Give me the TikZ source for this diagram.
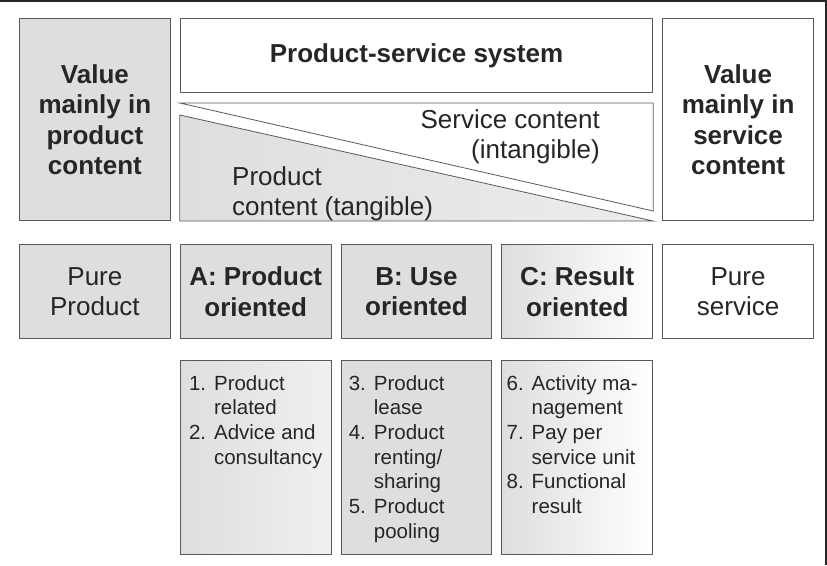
\documentclass[tikz,border=0pt]{standalone}
\usepackage{fontspec}
\setmainfont{Liberation Sans}
\usetikzlibrary{positioning,calc}
\definecolor{boxgrey}{HTML}{DEDEDE}
\newcommand{\psslarge}{\fontsize{26}{30.5}\selectfont}
\newcommand{\psssmall}{\fontsize{20.5}{24.7}\selectfont}
\tikzset{
    pssbox/.style={draw=black!65, line width=1pt, align=center, text=black!85,
        inner sep=0pt, font=\psslarge, minimum width=150.8pt},
    greybox/.style={pssbox, fill=boxgrey},
    whitebox/.style={pssbox, fill=white},
    fadebox/.style={pssbox, left color=boxgrey, right color=white},
    tallbox/.style={minimum height=202pt, font=\psslarge\bfseries},
    midbox/.style={minimum height=94pt},
    listbox/.style={minimum height=194pt},
    itemtext/.style={inner sep=0pt, text=black!85, font=\psssmall},
    plaintext/.style={inner sep=0pt, text=black!85, font=\psslarge},
    contentline/.style={draw=black!65, line width=0.8pt}
}

\begin{document}
\begin{tikzpicture}[x=1pt, y=1pt, node distance=9pt]
\useasboundingbox (0,0) rectangle (827,-565);
\draw[line width=2pt, black!85] (0,-1) -- (826,-1) -- (826,-565);

\node[greybox, tallbox, anchor=north west] (valprod) at (19,-18) {Value\\mainly in\\product\\content};
\node[whitebox, right=of valprod.north east, anchor=north west, minimum width=472.4pt,
    minimum height=74pt, font=\psslarge\bfseries] (pss) {Product-service system};
\node[whitebox, tallbox, right=of pss.north east, anchor=north west] (valserv) {Value\\mainly in\\service\\content};

\coordinate (svnw) at ($(pss.south west)+(0,-10)$);
\coordinate (svne) at ($(pss.south east)+(0,-10)$);
\coordinate (svse) at ($(pss.south east |- valprod.south)+(0,10)$);
\coordinate (pdnw) at ($(svnw)+(0,-12)$);
\coordinate (pdsw) at (pss.south west |- valprod.south);
\coordinate (pdse) at (pss.south east |- valprod.south);
\draw[contentline, fill=white] (svnw) -- (svne) -- (svse) -- cycle;
\draw[contentline, left color=boxgrey, right color=boxgrey!55!white] (pdnw) -- (pdse) -- (pdsw) -- cycle;
\node[plaintext, align=right, anchor=north east] (servtxt) at (600,-109) {Service content\\(intangible)};
\node[plaintext, align=left, anchor=north west] (prodtxt) at (232,-166) {Product\\content (tangible)};

\node[greybox, midbox, below=23pt of valprod.south west, anchor=north west] (pureprod) {Pure\\Product};
\node[greybox, midbox, right=of pureprod, font=\psslarge\bfseries] (prodor) {A: Product\\oriented};
\node[greybox, midbox, right=of prodor, font=\psslarge\bfseries] (useor) {B: Use\\oriented};
\node[fadebox, midbox, right=of useor, font=\psslarge\bfseries] (resor) {C: Result\\oriented};
\node[whitebox, midbox, right=of resor] (pureserv) {Pure\\service};

\node[pssbox, listbox, below=21pt of prodor, left color=boxgrey, right color=boxgrey!45!white] (prodlist) {};
\node[greybox, listbox, below=21pt of useor] (uselist) {};
\node[fadebox, listbox, below=21pt of resor] (reslist) {};

\node[itemtext, anchor=base west] (proditems) at ($(prodlist.north west)+(9,-30)$)
    {\begin{tabular}[t]{@{}l@{\hspace{8pt}}l@{}}1.&Product\\&related\\2.&Advice and\\&consultancy\end{tabular}};
\node[itemtext, anchor=base west] (useitems) at ($(uselist.north west)+(8,-30)$)
    {\begin{tabular}[t]{@{}l@{\hspace{8pt}}l@{}}3.&Product\\&lease\\4.&Product\\&renting/\\&sharing\\5.&Product\\&pooling\end{tabular}};
\node[itemtext, anchor=base west] (resitems) at ($(reslist.north west)+(5,-30)$)
    {\begin{tabular}[t]{@{}l@{\hspace{8pt}}l@{}}6.&Activity ma-\\&nagement\\7.&Pay per\\&service unit\\8.&Functional\\&result\end{tabular}};
\end{tikzpicture}
\end{document}
